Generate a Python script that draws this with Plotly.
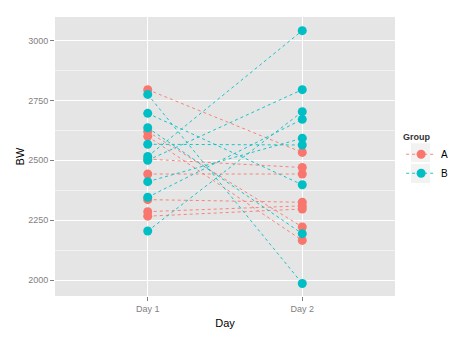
import plotly.graph_objects as go

days = ["Day 1", "Day 2"]
group_a_day1 = [2795, 2620, 2600, 2505, 2443, 2336, 2286, 2267]
group_a_day2 = [2533, 2222, 2166, 2470, 2443, 2325, 2310, 2297]
group_b_day1 = [2775, 2696, 2636, 2567, 2516, 2500, 2411, 2346, 2205]
group_b_day2 = [1986, 2398, 2194, 2564, 3041, 2795, 2592, 2671, 2703]
y_ticks = [2000, 2250, 2500, 2750, 3000]

col = {"A": "#F8766D", "B": "#00BFC4"}
xpos = [1, 2]
dash = "3px,3px"

fig = go.Figure()
groups = [("A", group_a_day1, group_a_day2), ("B", group_b_day1, group_b_day2)]

for g, d1, d2 in groups:
    for v1, v2 in zip(d1, d2):
        fig.add_trace(go.Scatter(x=xpos, y=[v1, v2], mode="lines",
                                 line=dict(color=col[g], width=0.9, dash=dash),
                                 showlegend=False, hoverinfo="skip"))
for g, d1, d2 in groups:
    fig.add_trace(go.Scatter(x=[xpos[0]] * len(d1) + [xpos[1]] * len(d2), y=d1 + d2,
                             mode="markers", marker=dict(color=col[g], size=9),
                             showlegend=False))
for g, _, _ in groups:
    fig.add_trace(go.Scatter(x=[None], y=[None], mode="lines+markers", name=g,
                             line=dict(color=col[g], width=0.9, dash=dash),
                             marker=dict(color=col[g], size=9)))

# grey legend key backgrounds (ggplot style)
def px_x(p):
    return (p - 55) / 340.0

def px_y(p):
    return (297.7 - p) / 280.7

shapes = []
for top in (144, 165):
    shapes.append(dict(type="rect", xref="paper", yref="paper",
                       x0=px_x(411), x1=px_x(430), y0=px_y(top + 19), y1=px_y(top),
                       fillcolor="#F2F2F2", line=dict(width=0), layer="below"))

font = "Liberation Sans, Arial, sans-serif"
fig.update_layout(
    width=474, height=339,
    margin=dict(l=55, r=79, t=17, b=41),
    paper_bgcolor="white", plot_bgcolor="#E5E5E5",
    font=dict(family=font, size=9, color="#7F7F7F"),
    shapes=shapes,
    legend=dict(title=dict(text="<b>Group</b>", font=dict(size=9, color="#333333")),
                font=dict(size=10, color="#000000"),
                x=1.018, y=0.602, xanchor="left", yanchor="top",
                bgcolor="rgba(0,0,0,0)", itemwidth=30, tracegroupgap=2),
    xaxis=dict(range=[0.4, 2.6], tickvals=xpos, ticktext=days,
               showgrid=True, gridcolor="white", gridwidth=1.4,
               zeroline=False, ticks="outside", ticklen=4, tickcolor="#7F7F7F",
               tickfont=dict(size=9, color="#7F7F7F"),
               title=dict(text="Day", font=dict(size=11, color="#000000"), standoff=6)),
    yaxis=dict(range=[1934, 3098], tickvals=y_ticks,
               showgrid=True, gridcolor="white", gridwidth=1.4,
               minor=dict(dtick=125, tick0=2000, showgrid=True, gridcolor="#F2F2F2", gridwidth=0.7),
               zeroline=False, ticks="outside", ticklen=4, tickcolor="#7F7F7F",
               tickfont=dict(size=9, color="#7F7F7F"),
               title=dict(text="BW", font=dict(size=11, color="#000000"), standoff=1)),
)
fig.write_html("out.html")
